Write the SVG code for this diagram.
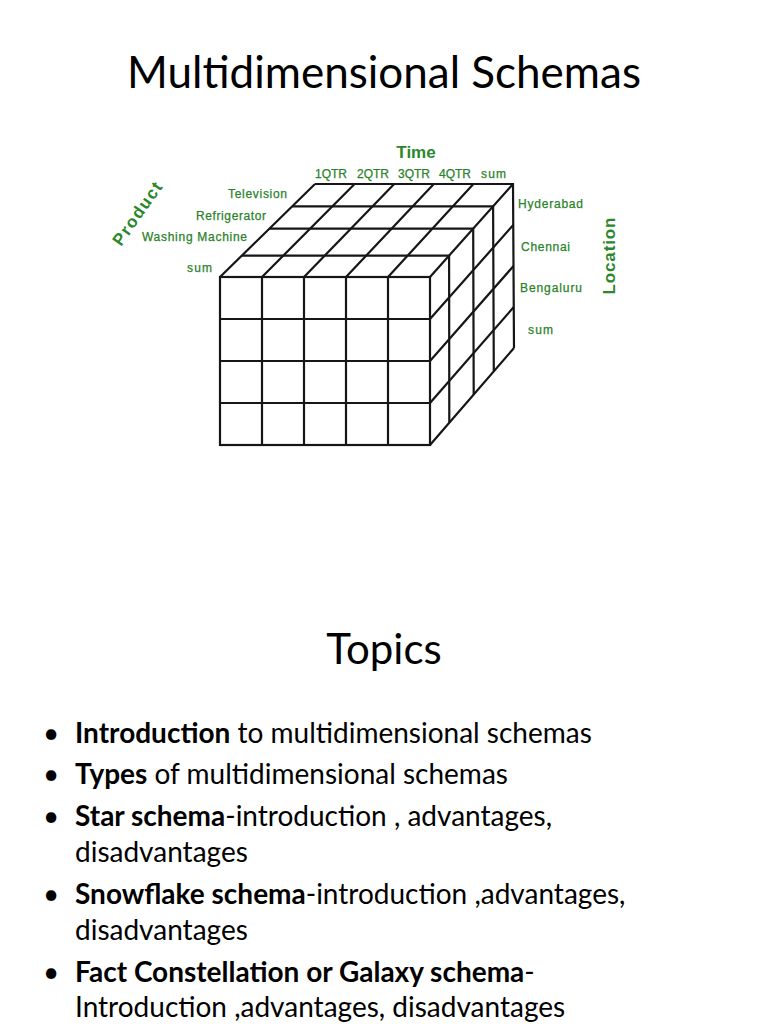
<svg xmlns="http://www.w3.org/2000/svg" width="768" height="1024" viewBox="0 0 768 1024">
<style>
.title{font-family:Lato,"Open Sans",sans-serif;font-size:44px;fill:#000;text-anchor:middle}
.body{font-family:Lato,"Open Sans",sans-serif;font-size:28px;fill:#000}
.b{font-weight:bold}
.lbl{font-family:"Liberation Sans",Arial,sans-serif;font-size:12px;fill:#2a822a;stroke:#2a822a;stroke-width:0.25}
.axis{font-family:"Liberation Sans",Arial,sans-serif;font-size:17px;font-weight:bold;fill:#2a872a}
.grid{fill:none;stroke:#161616;stroke-width:2.2;stroke-linejoin:miter}
</style>
<rect width="768" height="1024" fill="#fff"/>
<text class="title" x="384" y="88">Multidimensional Schemas</text>
<g id="cube">
  <g id="front-face" class="grid">
    <rect x="220" y="277" width="210" height="168"/>
    <path d="M262 277V445M304 277V445M346 277V445M388 277V445M220 319H430M220 361H430M220 403H430"/>
  </g>
  <g id="slices" class="grid">
    <polyline points="241.9,255.6 449.1,255.6 449.3,422.7"/>
    <polyline points="269.4,228.6 473.2,228.6 473.7,394.6"/>
    <polyline points="292.2,206.3 493.1,206.3 493.8,371.3"/>
    <polyline points="315,184 513,184 514,348"/>
  </g>
  <g id="depth-lines" class="grid">
    <path d="M220 277L315 184M262 277L354.6 184M304 277L394.2 184M346 277L433.8 184M388 277L473.4 184M430 277L513 184"/>
    <path d="M430 319L513.25 225M430 361L513.5 266M430 403L513.75 307M430 445L514 348"/>
  </g>
</g>
<g id="time-axis">
  <text class="axis" x="416" y="158" text-anchor="middle">Time</text>
  <text class="lbl" x="315" y="178" textLength="32">1QTR</text>
  <text class="lbl" x="357" y="178" textLength="32">2QTR</text>
  <text class="lbl" x="398" y="178" textLength="32">3QTR</text>
  <text class="lbl" x="439" y="178" textLength="32">4QTR</text>
  <text class="lbl" x="481" y="178" textLength="25">sum</text>
</g>
<g id="product-axis">
  <text class="axis" transform="translate(142,217) rotate(-55)" text-anchor="middle" textLength="73">Product</text>
  <text class="lbl" x="228" y="198" textLength="59">Television</text>
  <text class="lbl" x="196" y="220" textLength="70">Refrigerator</text>
  <text class="lbl" x="142" y="241" textLength="105">Washing Machine</text>
  <text class="lbl" x="187" y="272" textLength="25">sum</text>
</g>
<g id="location-axis">
  <text class="axis" transform="translate(615,256) rotate(-90)" text-anchor="middle" textLength="77">Location</text>
  <text class="lbl" x="518" y="208" textLength="65">Hyderabad</text>
  <text class="lbl" x="521" y="251" textLength="49">Chennai</text>
  <text class="lbl" x="520" y="292" textLength="62">Bengaluru</text>
  <text class="lbl" x="528" y="334" textLength="25">sum</text>
</g>
<text class="title" x="384" y="664" style="font-size:42px">Topics</text>
<g id="topics" class="body">
  <text x="43" y="743">•</text>
  <text x="75" y="743"><tspan class="b">Introduction</tspan> to multidimensional schemas</text>
  <text x="43" y="784">•</text>
  <text x="75" y="784"><tspan class="b">Types</tspan> of multidimensional schemas</text>
  <text x="43" y="826">•</text>
  <text x="75" y="826"><tspan class="b">Star schema</tspan>-introduction , advantages,</text>
  <text x="75" y="862">disadvantages</text>
  <text x="43" y="904">•</text>
  <text x="75" y="904"><tspan class="b">Snowflake schema</tspan>-introduction ,advantages,</text>
  <text x="75" y="940">disadvantages</text>
  <text x="43" y="982">•</text>
  <text x="75" y="982"><tspan class="b">Fact Constellation or Galaxy schema</tspan>-</text>
  <text x="75" y="1017">Introduction ,advantages, disadvantages</text>
</g>
</svg>
